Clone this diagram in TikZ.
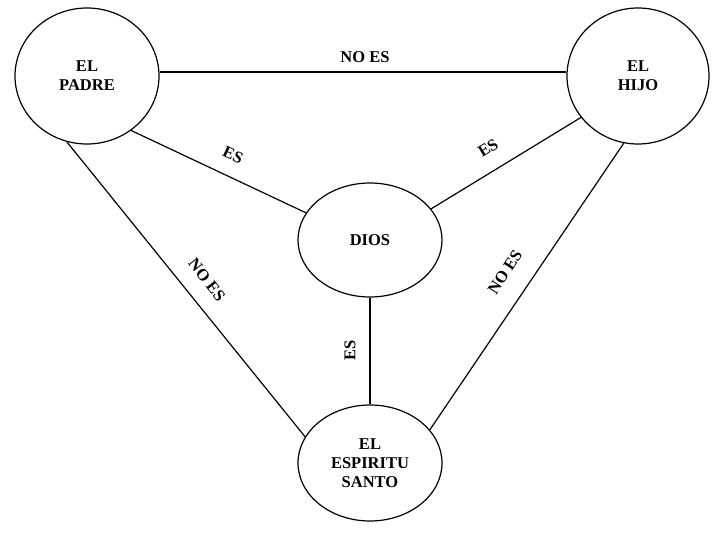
\documentclass[tikz,border=0pt]{standalone}
\usepackage{fontspec}
\setmainfont{Liberation Serif}
\usetikzlibrary{shapes.geometric}
\begin{document}
\begin{tikzpicture}[x=1pt,y=-1pt,
  c/.style={ellipse,draw,line width=1.2pt,align=center,font=\bfseries\fontsize{16.5}{19}\selectfont},
  l/.style={line width=1.2pt},
  t/.style={font=\bfseries\fontsize{16.5}{19}\selectfont}]
\useasboundingbox (0,0) rectangle (720,540);
\node[c,minimum width=144,minimum height=136] (p) at (87,76) {EL\\PADRE};
\node[c,minimum width=142,minimum height=136] (h) at (638,76) {EL\\HIJO};
\node[c,minimum width=144,minimum height=114] (d) at (370,240) {DIOS};
\node[c,minimum width=144,minimum height=116] (s) at (370,463) {EL\\ESPIRITU\\SANTO};
\draw[l] (p.east |- 0,72) -- (h.west |- 0,72);
\draw[l] (p.-51) -- (d.157);
\draw[l] (h.-144) -- (d.27);
\draw[l] (p.-107) -- (s.158);
\draw[l] (h.-102) -- (s.29);
\draw[l] (d) -- (s);
\node[t] (t1) at (365,57) {NO ES};
\node[t,rotate=-25] (t2) at (233,155) {ES};
\node[t,rotate=32] (t3) at (488,148) {ES};
\node[t,rotate=-52] (t4) at (207,280) {NO ES};
\node[t,rotate=57] (t5) at (505,272) {NO ES};
\node[t,rotate=90] (t6) at (350,350) {ES};
\end{tikzpicture}
\end{document}
